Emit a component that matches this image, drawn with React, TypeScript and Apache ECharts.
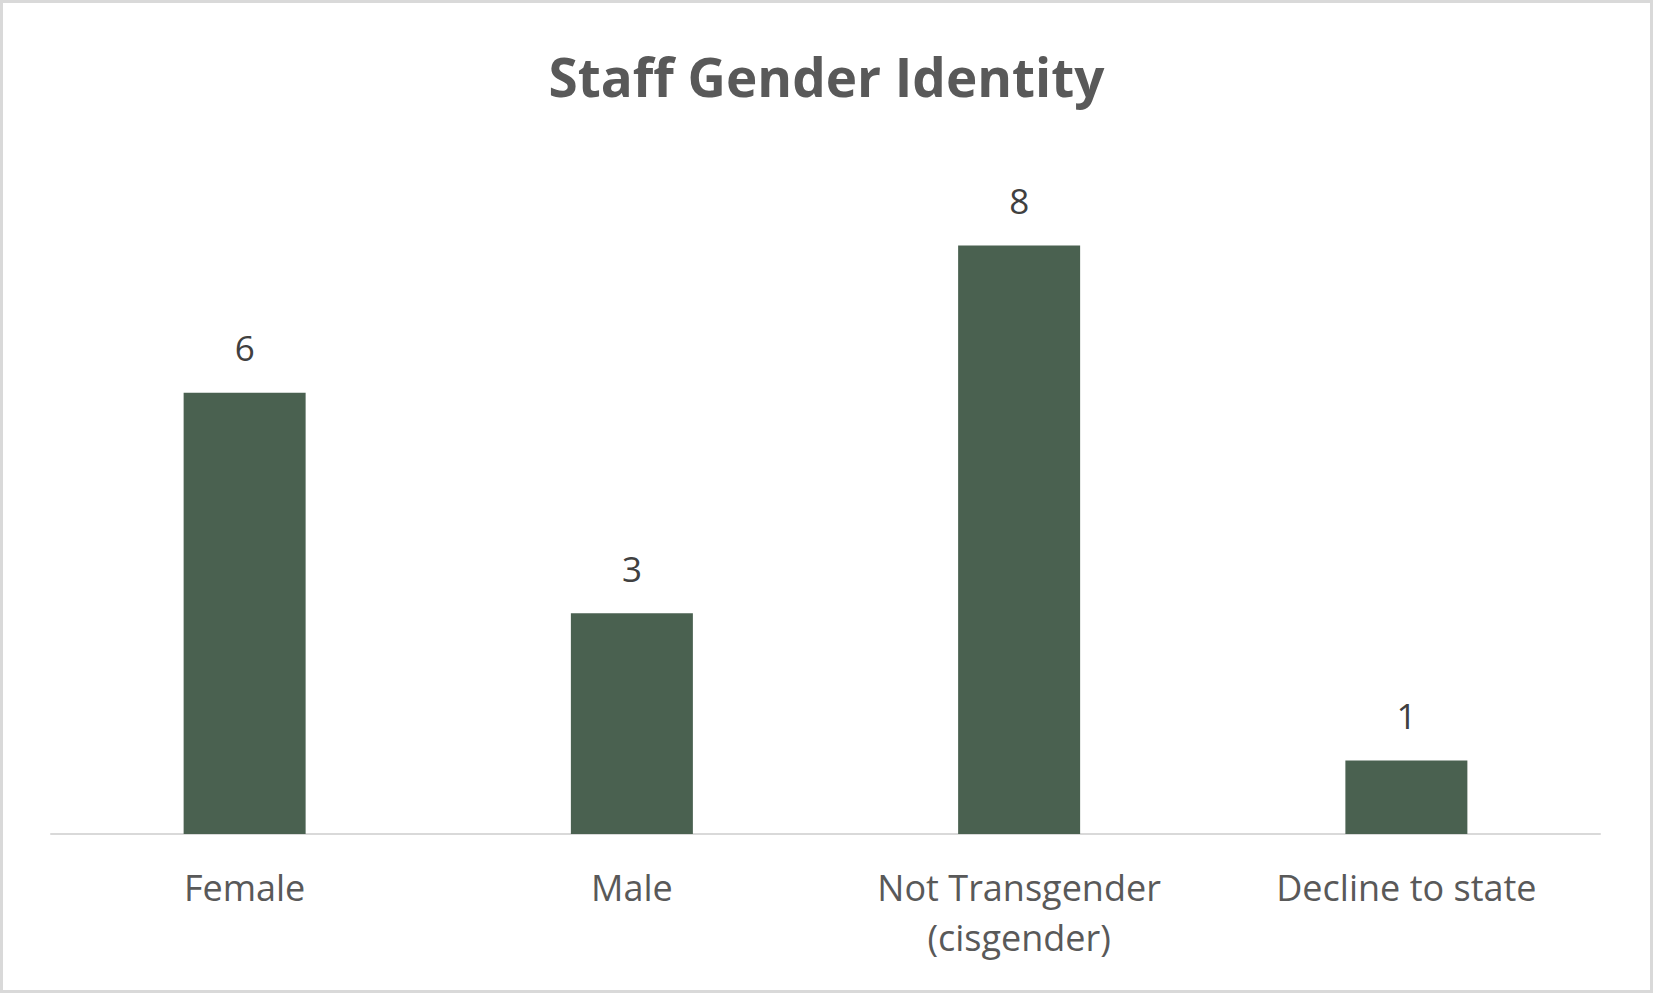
import { useEffect, useRef } from "react";
import * as echarts from "echarts";

const categories = ["Female", "Male", "Not Transgender\n(cisgender)", "Decline to state"];
const counts = [6, 3, 8, 1];
const chartTitle = "Staff Gender Identity";

export default function App(): JSX.Element {
  const chartRef = useRef<HTMLDivElement>(null);

  useEffect(() => {
    const myChart = echarts.init(chartRef.current, null, { renderer: "svg" });
    const option = {
      animation: false,
      backgroundColor: "#ffffff",
      title: {
        text: chartTitle,
        left: "center",
        top: 45,
        textStyle: {
          fontFamily: "Open Sans",
          fontSize: 53,
          fontWeight: "bold",
          color: "#595959",
        },
      },
      graphic: [
        {
          type: "rect",
          shape: { x: 1.5, y: 1.5, width: 1650, height: 990 },
          style: { fill: "none", stroke: "#d9d9d9", lineWidth: 3 },
          silent: true,
        },
      ],
      grid: { left: 51, right: 53, top: 172, bottom: 159 },
      xAxis: {
        type: "category",
        data: categories,
        axisLine: { lineStyle: { color: "#d9d9d9", width: 2 } },
        axisTick: { show: false },
        axisLabel: {
          margin: 28,
          fontFamily: "Open Sans",
          fontSize: 36,
          lineHeight: 50,
          color: "#595959",
          interval: 0,
        },
      },
      yAxis: {
        type: "value",
        min: 0,
        max: 9,
        show: false,
        splitLine: { show: false },
      },
      series: [
        {
          type: "bar",
          data: counts,
          barWidth: 122,
          itemStyle: { color: "#4a6150" },
          label: {
            show: true,
            position: "top",
            distance: 25,
            fontFamily: "Open Sans",
            fontSize: 35,
            lineHeight: 40,
            color: "#404040",
          },
        },
      ],
    };
    myChart.setOption(option);
    return () => {
      myChart.dispose();
    };
  }, []);

  return (
    <div
      ref={chartRef}
      style={{ position: "absolute", left: 0, top: 0, width: 1653, height: 993 }}
    ></div>
  );
}
